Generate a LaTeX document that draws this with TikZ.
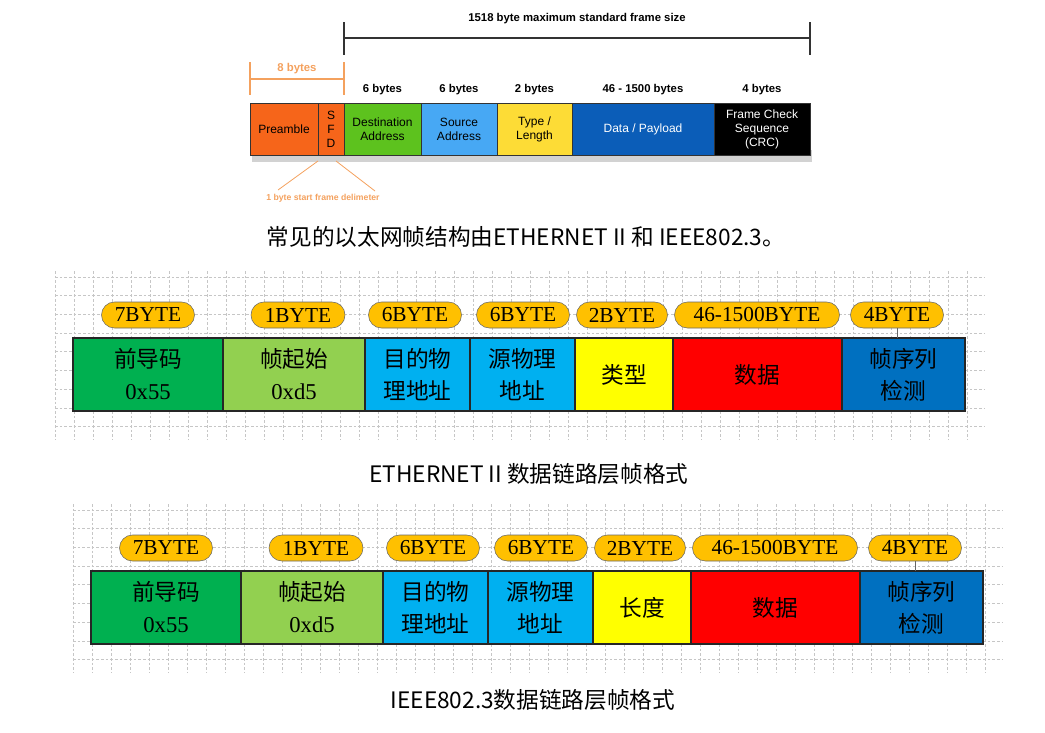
\documentclass[tikz,border=0pt]{standalone}
\usepackage{fontspec}
\setmainfont{Liberation Serif}
\setsansfont{Liberation Sans}
\newfontfamily\cjk{Noto Sans CJK SC}
\usetikzlibrary{shadows,shapes.misc}
\def\u{0.75pt}
\definecolor{cgreen}{HTML}{00B050}
\definecolor{clgreen}{HTML}{92D050}
\definecolor{ccyan}{HTML}{00B0F0}
\definecolor{cyel}{HTML}{FFFF00}
\definecolor{cred}{HTML}{FF0000}
\definecolor{cblue}{HTML}{0070C0}
\definecolor{cpill}{HTML}{FFC000}
\definecolor{tor}{HTML}{F6651A}
\definecolor{tgr}{HTML}{5DC21E}
\definecolor{tbl}{HTML}{47A8F4}
\definecolor{tye}{HTML}{FDDC36}
\definecolor{tdb}{HTML}{0B5DB8}
\definecolor{lorange}{HTML}{F4A15E}
\tikzset{
 cell/.style={draw=black!85, line width=1.2*\u, inner sep=0pt, outer sep=0pt, align=center, font=\fontsize{17}{24}\selectfont\cjk},
 tcell/.style={draw=black!80, line width=1*\u, inner sep=0pt, outer sep=0pt, align=center, font=\sffamily\fontsize{9}{10.5}\selectfont},
 pill/.style={draw=black!60, fill=cpill, rounded rectangle, inner sep=0pt, minimum height=26*\u, font=\fontsize{16}{16}\selectfont},
 blab/.style={font=\sffamily\bfseries\fontsize{8.5}{9}\selectfont},
 captxt/.style={font=\fontsize{17}{19}\selectfont\cjk},
 gridl/.style={gray!45, line width=0.7*\u, dash pattern=on 2pt off 1.5pt}
}
\newcommand\mkcell[6]{%
 \node[#1, minimum width={(#4-#3)*\u}, minimum height={(#6)*\u}] (#2) at ({(#3+#4)/2},{#5+#6/2})}
\begin{document}
\begin{tikzpicture}[x=\u,y=-\u]
\useasboundingbox (0,0) rectangle (1045,732);
% ---------- top diagram ----------
\fill[black!35, opacity=0.5] (252,150) rectangle (812,162);
\mkcell{tcell,fill=tor}{pre}{250}{318}{103}{52} {Preamble};
\mkcell{tcell,fill=tor}{sfd}{318}{344}{103}{52} {S\\F\\D};
\mkcell{tcell,fill=tgr}{dst}{344}{421}{103}{52} {Destination\\Address};
\mkcell{tcell,fill=tbl}{src}{421}{497}{103}{52} {Source\\Address};
\mkcell{tcell,fill=tye}{typ}{497}{572}{103}{52} {Type /\\Length};
\mkcell{tcell,fill=tdb,text=white}{dat}{572}{714}{103}{52} {Data / Payload};
\mkcell{tcell,fill=black,text=white}{fcs}{714}{810}{103}{52} {Frame Check\\Sequence\\(CRC)};
\foreach \n/\t in {dst/6 bytes,src/6 bytes,typ/2 bytes,dat/46 - 1500 bytes,fcs/4 bytes}
  \node[blab] (l\n) at ([yshift=13*\u]\n.north) {\t};
% 1518 bracket
\coordinate (ba) at (344,38); \coordinate (bb) at (810,38);
\draw[black!80, line width=1.2*\u] (ba) -- (bb);
\draw[black!80, line width=1.2*\u] (344,22) -- (344,55) (810,22) -- (810,55);
\node[blab] (l1518) at (577,19) {1518 byte maximum standard frame size};
% 8 bytes bracket
\draw[lorange, line width=1.2*\u] (250,79) -- (344,79) (250,62) -- (250,95) (344,62) -- (344,95);
\node[blab, text=lorange] (l8) at (297,69) {8 bytes};
\node[font=\sffamily\bfseries\fontsize{6.5}{7}\selectfont, text=lorange] (l1b) at (323,198) {1 byte start frame delimeter};
\draw[lorange, line width=0.8*\u] (318,161) -- (278,190);
\draw[lorange, line width=0.8*\u] (336,161) -- (375,191);
\node[captxt] (c1) at (526,237) {常见的以太网帧结构由ETHERNET II 和 IEEE802.3。};
% ---------- frames ----------
\foreach \dx/\dy/\nm/\pf in {0/0/类型/a, 18/233/长度/b}{
\begin{scope}[shift={(\dx,\dy)}, name prefix=\pf-]
 \foreach \gx in {0,...,48} \draw[gridl] ({55+\gx*19},271) -- ({55+\gx*19},440);
 \foreach \gy in {0,...,8} \draw[gridl] (55,{277+\gy*18.7}) -- (985,{277+\gy*18.7});
 \mkcell{cell,fill=cgreen}{c1}{73}{223}{338}{73} {前导码\\{\rmfamily 0x55}};
 \mkcell{cell,fill=clgreen}{c2}{223}{365}{338}{73} {帧起始\\{\rmfamily 0xd5}};
 \mkcell{cell,fill=ccyan}{c3}{365}{470}{338}{73} {目的物\\理地址};
 \mkcell{cell,fill=ccyan}{c4}{470}{575}{338}{73} {源物理\\地址};
 \mkcell{cell,fill=cyel}{c5}{575}{673}{338}{73} {\nm};
 \mkcell{cell,fill=cred}{c6}{673}{842}{338}{73} {数据};
 \mkcell{cell,fill=cblue}{c7}{842}{965}{338}{73} {帧序列\\检测};
 \node[pill, minimum width=93*\u] (p1) at (148,315) {7BYTE};
 \node[pill, minimum width=94*\u] (p2) at (298,315) {1BYTE};
 \node[pill, minimum width=93*\u] (p3) at (415,315) {6BYTE};
 \node[pill, minimum width=93*\u] (p4) at (523,315) {6BYTE};
 \node[pill, minimum width=91*\u] (p5) at (622,315) {2BYTE};
 \node[pill, minimum width=165*\u] (p6) at (757,315) {46-1500BYTE};
 \node[pill, minimum width=93*\u] (p7) at (897,315) {4BYTE};
 \draw[black!60, line width=0.8*\u] (p7.south) -- (p7.south |- c7.north);
\end{scope}}
\node[captxt] (c2) at (529,474) {ETHERNET II 数据链路层帧格式};
\node[captxt] (c3) at (533,700) {IEEE802.3数据链路层帧格式};
\end{tikzpicture}
\end{document}
